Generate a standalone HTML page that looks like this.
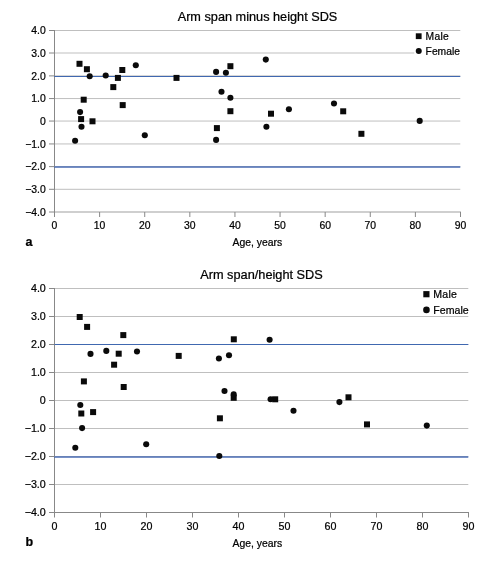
<!DOCTYPE html>
<html lang="en"><head><meta charset="utf-8"><title>Arm span SDS</title>
<style>html,body{margin:0;padding:0;background:#fff}body{width:499px;height:562px;overflow:hidden}svg{display:block}text{font-family:"Liberation Sans", sans-serif;fill:#000;stroke:#000;stroke-width:0.22px}</style></head><body>
<svg width="499" height="562" viewBox="0 0 499 562">
<rect width="499" height="562" fill="#fff"/>
<line x1="54.5" y1="30.5" x2="460.3" y2="30.5" stroke="#bfbfbf" stroke-width="1"/>
<line x1="54.5" y1="53" x2="460.3" y2="53" stroke="#bfbfbf" stroke-width="1"/>
<line x1="54.5" y1="75.88" x2="460.3" y2="75.88" stroke="#bfbfbf" stroke-width="1"/>
<line x1="54.5" y1="98.56" x2="460.3" y2="98.56" stroke="#bfbfbf" stroke-width="1"/>
<line x1="54.5" y1="121.05" x2="460.3" y2="121.05" stroke="#bfbfbf" stroke-width="1"/>
<line x1="54.5" y1="143.94" x2="460.3" y2="143.94" stroke="#bfbfbf" stroke-width="1"/>
<line x1="54.5" y1="166.62" x2="460.3" y2="166.62" stroke="#bfbfbf" stroke-width="1"/>
<line x1="54.5" y1="189.31" x2="460.3" y2="189.31" stroke="#bfbfbf" stroke-width="1"/>
<line x1="54.5" y1="212" x2="461" y2="212" stroke="#bfbfbf" stroke-width="1.4"/>
<rect x="414.3" y="32" width="50" height="26" fill="#fff"/>
<line x1="54.5" y1="30" x2="54.5" y2="217" stroke="#888888" stroke-width="1"/>
<line x1="54" y1="76.5" x2="460.3" y2="76.5" stroke="#4068b0" stroke-width="1"/>
<line x1="54" y1="167" x2="460.3" y2="167" stroke="#4a6cb4" stroke-width="1.3"/>
<line x1="49" y1="30.5" x2="54.5" y2="30.5" stroke="#888888" stroke-width="1"/>
<text x="45.7" y="34.2" font-size="10.4" text-anchor="end">4.0</text>
<line x1="49" y1="53" x2="54.5" y2="53" stroke="#888888" stroke-width="1"/>
<text x="45.7" y="56.7" font-size="10.4" text-anchor="end">3.0</text>
<line x1="49" y1="75.88" x2="54.5" y2="75.88" stroke="#888888" stroke-width="1"/>
<text x="45.7" y="79.58" font-size="10.4" text-anchor="end">2.0</text>
<line x1="49" y1="98.56" x2="54.5" y2="98.56" stroke="#888888" stroke-width="1"/>
<text x="45.7" y="102.26" font-size="10.4" text-anchor="end">1.0</text>
<line x1="49" y1="121.05" x2="54.5" y2="121.05" stroke="#888888" stroke-width="1"/>
<text x="45.7" y="124.75" font-size="10.4" text-anchor="end">0</text>
<line x1="49" y1="143.94" x2="54.5" y2="143.94" stroke="#888888" stroke-width="1"/>
<text x="45.7" y="147.64" font-size="10.4" text-anchor="end">−1.0</text>
<line x1="49" y1="166.62" x2="54.5" y2="166.62" stroke="#888888" stroke-width="1"/>
<text x="45.7" y="170.32" font-size="10.4" text-anchor="end">−2.0</text>
<line x1="49" y1="189.31" x2="54.5" y2="189.31" stroke="#888888" stroke-width="1"/>
<text x="45.7" y="193.01" font-size="10.4" text-anchor="end">−3.0</text>
<line x1="49" y1="212" x2="54.5" y2="212" stroke="#888888" stroke-width="1"/>
<text x="45.7" y="215.7" font-size="10.4" text-anchor="end">−4.0</text>
<text x="54.5" y="228.7" font-size="10.4" text-anchor="middle">0</text>
<line x1="99.61" y1="212" x2="99.61" y2="217" stroke="#888888" stroke-width="1"/>
<text x="99.61" y="228.7" font-size="10.4" text-anchor="middle">10</text>
<line x1="144.72" y1="212" x2="144.72" y2="217" stroke="#888888" stroke-width="1"/>
<text x="144.72" y="228.7" font-size="10.4" text-anchor="middle">20</text>
<line x1="189.83" y1="212" x2="189.83" y2="217" stroke="#888888" stroke-width="1"/>
<text x="189.83" y="228.7" font-size="10.4" text-anchor="middle">30</text>
<line x1="234.94" y1="212" x2="234.94" y2="217" stroke="#888888" stroke-width="1"/>
<text x="234.94" y="228.7" font-size="10.4" text-anchor="middle">40</text>
<line x1="280.06" y1="212" x2="280.06" y2="217" stroke="#888888" stroke-width="1"/>
<text x="280.06" y="228.7" font-size="10.4" text-anchor="middle">50</text>
<line x1="325.17" y1="212" x2="325.17" y2="217" stroke="#888888" stroke-width="1"/>
<text x="325.17" y="228.7" font-size="10.4" text-anchor="middle">60</text>
<line x1="370.28" y1="212" x2="370.28" y2="217" stroke="#888888" stroke-width="1"/>
<text x="370.28" y="228.7" font-size="10.4" text-anchor="middle">70</text>
<line x1="415.39" y1="212" x2="415.39" y2="217" stroke="#888888" stroke-width="1"/>
<text x="415.39" y="228.7" font-size="10.4" text-anchor="middle">80</text>
<line x1="460.5" y1="212" x2="460.5" y2="217" stroke="#888888" stroke-width="1"/>
<text x="460.5" y="228.7" font-size="10.4" text-anchor="middle">90</text>
<text transform="translate(257.5 20.9) scale(1.06 1)" font-size="12" text-anchor="middle">Arm span minus height SDS</text>
<text x="257.4" y="245.8" font-size="10.4" text-anchor="middle">Age, years</text>
<text x="25.6" y="245.8" font-size="12.5" font-weight="bold">a</text>
<rect x="76.5" y="60.8" width="6.0" height="6.0" fill="#0a0a0a"/>
<rect x="83.9" y="66.2" width="6.0" height="6.0" fill="#0a0a0a"/>
<rect x="119.3" y="67" width="6.0" height="6.0" fill="#0a0a0a"/>
<rect x="114.9" y="74.9" width="6.0" height="6.0" fill="#0a0a0a"/>
<rect x="110.3" y="84.1" width="6.0" height="6.0" fill="#0a0a0a"/>
<rect x="80.7" y="96.7" width="6.0" height="6.0" fill="#0a0a0a"/>
<rect x="119.7" y="102.1" width="6.0" height="6.0" fill="#0a0a0a"/>
<rect x="78.1" y="116.1" width="6.0" height="6.0" fill="#0a0a0a"/>
<rect x="89.5" y="118.3" width="6.0" height="6.0" fill="#0a0a0a"/>
<rect x="173.5" y="74.9" width="6.0" height="6.0" fill="#0a0a0a"/>
<rect x="227.4" y="63.2" width="6.0" height="6.0" fill="#0a0a0a"/>
<rect x="227.4" y="108.2" width="6.0" height="6.0" fill="#0a0a0a"/>
<rect x="213.9" y="125.1" width="6.0" height="6.0" fill="#0a0a0a"/>
<rect x="268" y="110.7" width="6.0" height="6.0" fill="#0a0a0a"/>
<rect x="340.2" y="108.3" width="6.0" height="6.0" fill="#0a0a0a"/>
<rect x="358.4" y="130.8" width="6.0" height="6.0" fill="#0a0a0a"/>
<circle cx="135.8" cy="65.2" r="3.05" fill="#0a0a0a"/>
<circle cx="89.7" cy="76.3" r="3.05" fill="#0a0a0a"/>
<circle cx="105.7" cy="75.5" r="3.05" fill="#0a0a0a"/>
<circle cx="80.1" cy="112.1" r="3.05" fill="#0a0a0a"/>
<circle cx="81.5" cy="126.8" r="3.05" fill="#0a0a0a"/>
<circle cx="75.1" cy="140.8" r="3.05" fill="#0a0a0a"/>
<circle cx="144.8" cy="135.2" r="3.05" fill="#0a0a0a"/>
<circle cx="216.1" cy="71.9" r="3.05" fill="#0a0a0a"/>
<circle cx="225.9" cy="72.7" r="3.05" fill="#0a0a0a"/>
<circle cx="221.5" cy="91.7" r="3.05" fill="#0a0a0a"/>
<circle cx="230.4" cy="97.7" r="3.05" fill="#0a0a0a"/>
<circle cx="216.1" cy="139.9" r="3.05" fill="#0a0a0a"/>
<circle cx="265.8" cy="59.6" r="3.05" fill="#0a0a0a"/>
<circle cx="288.9" cy="109.3" r="3.05" fill="#0a0a0a"/>
<circle cx="334" cy="103.5" r="3.05" fill="#0a0a0a"/>
<circle cx="266.4" cy="126.8" r="3.05" fill="#0a0a0a"/>
<circle cx="419.7" cy="120.9" r="3.05" fill="#0a0a0a"/>
<rect x="415.8" y="33.3" width="5.8" height="5.8" fill="#0a0a0a"/>
<circle cx="418.75" cy="50.9" r="3.0" fill="#0a0a0a"/>
<text x="425.6" y="39.6" font-size="10.3" letter-spacing="0.25">Male</text>
<text x="425.6" y="54.5" font-size="10.3">Female</text>
<line x1="54.5" y1="288.5" x2="468.3" y2="288.5" stroke="#bfbfbf" stroke-width="1"/>
<line x1="54.5" y1="316.5" x2="468.3" y2="316.5" stroke="#bfbfbf" stroke-width="1"/>
<line x1="54.5" y1="344.5" x2="468.3" y2="344.5" stroke="#bfbfbf" stroke-width="1"/>
<line x1="54.5" y1="372.5" x2="468.3" y2="372.5" stroke="#bfbfbf" stroke-width="1"/>
<line x1="54.5" y1="400.5" x2="468.3" y2="400.5" stroke="#bfbfbf" stroke-width="1"/>
<line x1="54.5" y1="428.5" x2="468.3" y2="428.5" stroke="#bfbfbf" stroke-width="1"/>
<line x1="54.5" y1="456.5" x2="468.3" y2="456.5" stroke="#bfbfbf" stroke-width="1"/>
<line x1="54.5" y1="484.5" x2="468.3" y2="484.5" stroke="#bfbfbf" stroke-width="1"/>
<line x1="54.5" y1="512.5" x2="469" y2="512.5" stroke="#888888" stroke-width="1"/>
<rect x="421" y="290" width="48" height="25" fill="#fff"/>
<line x1="54.5" y1="288" x2="54.5" y2="517.5" stroke="#888888" stroke-width="1"/>
<line x1="54" y1="344.5" x2="468.3" y2="344.5" stroke="#4068b0" stroke-width="1"/>
<line x1="54" y1="457" x2="468.3" y2="457" stroke="#4a6cb4" stroke-width="1.35"/>
<line x1="49" y1="288.5" x2="54.5" y2="288.5" stroke="#888888" stroke-width="1"/>
<text x="45.8" y="292.2" font-size="10.7" text-anchor="end">4.0</text>
<line x1="49" y1="316.5" x2="54.5" y2="316.5" stroke="#888888" stroke-width="1"/>
<text x="45.8" y="320.2" font-size="10.7" text-anchor="end">3.0</text>
<line x1="49" y1="344.5" x2="54.5" y2="344.5" stroke="#888888" stroke-width="1"/>
<text x="45.8" y="348.2" font-size="10.7" text-anchor="end">2.0</text>
<line x1="49" y1="372.5" x2="54.5" y2="372.5" stroke="#888888" stroke-width="1"/>
<text x="45.8" y="376.2" font-size="10.7" text-anchor="end">1.0</text>
<line x1="49" y1="400.5" x2="54.5" y2="400.5" stroke="#888888" stroke-width="1"/>
<text x="45.8" y="404.2" font-size="10.7" text-anchor="end">0</text>
<line x1="49" y1="428.5" x2="54.5" y2="428.5" stroke="#888888" stroke-width="1"/>
<text x="45.8" y="432.2" font-size="10.7" text-anchor="end">−1.0</text>
<line x1="49" y1="456.5" x2="54.5" y2="456.5" stroke="#888888" stroke-width="1"/>
<text x="45.8" y="460.2" font-size="10.7" text-anchor="end">−2.0</text>
<line x1="49" y1="484.5" x2="54.5" y2="484.5" stroke="#888888" stroke-width="1"/>
<text x="45.8" y="488.2" font-size="10.7" text-anchor="end">−3.0</text>
<line x1="49" y1="512.5" x2="54.5" y2="512.5" stroke="#888888" stroke-width="1"/>
<text x="45.8" y="516.2" font-size="10.7" text-anchor="end">−4.0</text>
<text x="54.5" y="529.7" font-size="10.7" text-anchor="middle">0</text>
<line x1="100.5" y1="512.5" x2="100.5" y2="517.5" stroke="#888888" stroke-width="1"/>
<text x="100.5" y="529.7" font-size="10.7" text-anchor="middle">10</text>
<line x1="146.5" y1="512.5" x2="146.5" y2="517.5" stroke="#888888" stroke-width="1"/>
<text x="146.5" y="529.7" font-size="10.7" text-anchor="middle">20</text>
<line x1="192.5" y1="512.5" x2="192.5" y2="517.5" stroke="#888888" stroke-width="1"/>
<text x="192.5" y="529.7" font-size="10.7" text-anchor="middle">30</text>
<line x1="238.5" y1="512.5" x2="238.5" y2="517.5" stroke="#888888" stroke-width="1"/>
<text x="238.5" y="529.7" font-size="10.7" text-anchor="middle">40</text>
<line x1="284.5" y1="512.5" x2="284.5" y2="517.5" stroke="#888888" stroke-width="1"/>
<text x="284.5" y="529.7" font-size="10.7" text-anchor="middle">50</text>
<line x1="330.5" y1="512.5" x2="330.5" y2="517.5" stroke="#888888" stroke-width="1"/>
<text x="330.5" y="529.7" font-size="10.7" text-anchor="middle">60</text>
<line x1="376.5" y1="512.5" x2="376.5" y2="517.5" stroke="#888888" stroke-width="1"/>
<text x="376.5" y="529.7" font-size="10.7" text-anchor="middle">70</text>
<line x1="422.5" y1="512.5" x2="422.5" y2="517.5" stroke="#888888" stroke-width="1"/>
<text x="422.5" y="529.7" font-size="10.7" text-anchor="middle">80</text>
<line x1="468.5" y1="512.5" x2="468.5" y2="517.5" stroke="#888888" stroke-width="1"/>
<text x="468.5" y="529.7" font-size="10.7" text-anchor="middle">90</text>
<text transform="translate(261.5 278.7) scale(1.063 1)" font-size="12" text-anchor="middle">Arm span/height SDS</text>
<text x="257.4" y="546.9" font-size="10.4" text-anchor="middle">Age, years</text>
<text x="25.6" y="546.3" font-size="12.5" font-weight="bold">b</text>
<rect x="76.7" y="314" width="6.0" height="6.0" fill="#0a0a0a"/>
<rect x="84.1" y="323.9" width="6.0" height="6.0" fill="#0a0a0a"/>
<rect x="120.3" y="332.1" width="6.0" height="6.0" fill="#0a0a0a"/>
<rect x="115.7" y="350.7" width="6.0" height="6.0" fill="#0a0a0a"/>
<rect x="111.1" y="361.7" width="6.0" height="6.0" fill="#0a0a0a"/>
<rect x="80.9" y="378.4" width="6.0" height="6.0" fill="#0a0a0a"/>
<rect x="120.7" y="384" width="6.0" height="6.0" fill="#0a0a0a"/>
<rect x="78.3" y="410.5" width="6.0" height="6.0" fill="#0a0a0a"/>
<rect x="90.1" y="409.1" width="6.0" height="6.0" fill="#0a0a0a"/>
<rect x="175.7" y="352.9" width="6.0" height="6.0" fill="#0a0a0a"/>
<rect x="230.8" y="336.3" width="6.0" height="6.0" fill="#0a0a0a"/>
<rect x="230.7" y="394.8" width="6.0" height="6.0" fill="#0a0a0a"/>
<rect x="272.2" y="396.3" width="6.0" height="6.0" fill="#0a0a0a"/>
<rect x="216.9" y="415.3" width="6.0" height="6.0" fill="#0a0a0a"/>
<rect x="345.5" y="394.3" width="6.0" height="6.0" fill="#0a0a0a"/>
<rect x="364" y="421.4" width="6.0" height="6.0" fill="#0a0a0a"/>
<circle cx="90.5" cy="353.9" r="3.05" fill="#0a0a0a"/>
<circle cx="106.3" cy="350.9" r="3.05" fill="#0a0a0a"/>
<circle cx="137" cy="351.5" r="3.05" fill="#0a0a0a"/>
<circle cx="80.3" cy="405" r="3.05" fill="#0a0a0a"/>
<circle cx="82.1" cy="428.1" r="3.05" fill="#0a0a0a"/>
<circle cx="75.3" cy="447.7" r="3.05" fill="#0a0a0a"/>
<circle cx="146.2" cy="444.3" r="3.05" fill="#0a0a0a"/>
<circle cx="218.9" cy="358.5" r="3.05" fill="#0a0a0a"/>
<circle cx="229" cy="355.3" r="3.05" fill="#0a0a0a"/>
<circle cx="224.5" cy="391" r="3.05" fill="#0a0a0a"/>
<circle cx="233.7" cy="394.4" r="3.05" fill="#0a0a0a"/>
<circle cx="270.6" cy="399.3" r="3.05" fill="#0a0a0a"/>
<circle cx="219.3" cy="456" r="3.05" fill="#0a0a0a"/>
<circle cx="269.6" cy="339.8" r="3.05" fill="#0a0a0a"/>
<circle cx="293.5" cy="410.8" r="3.05" fill="#0a0a0a"/>
<circle cx="339.4" cy="402.1" r="3.05" fill="#0a0a0a"/>
<circle cx="426.8" cy="425.6" r="3.05" fill="#0a0a0a"/>
<rect x="423.3" y="291.1" width="6.2" height="6.2" fill="#0a0a0a"/>
<circle cx="426.45" cy="309.9" r="3.3" fill="#0a0a0a"/>
<text x="433.3" y="297.8" font-size="10.6" letter-spacing="0.25">Male</text>
<text x="433.3" y="313.8" font-size="10.6">Female</text>
</svg></body></html>
